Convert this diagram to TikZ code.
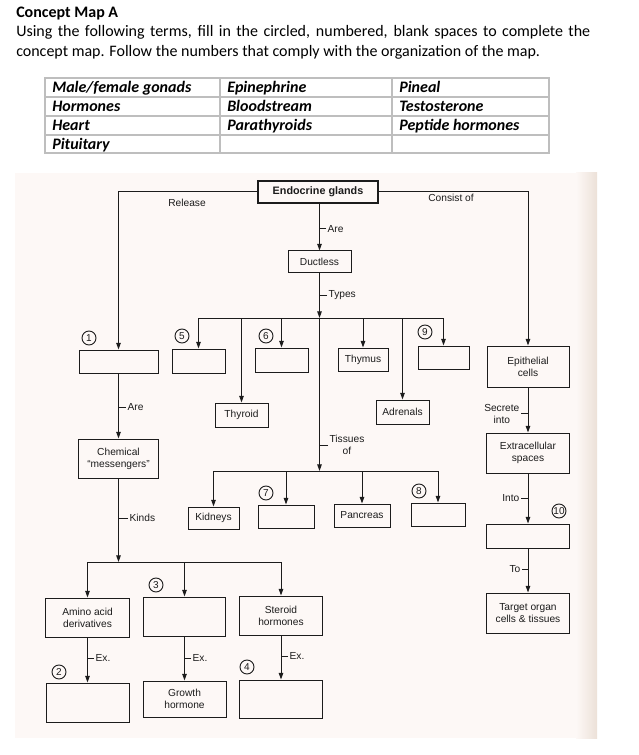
\documentclass[tikz,border=0pt]{standalone}
\usepackage{fontspec}
\setmainfont{Carlito}
\newfontfamily\dfont{Liberation Sans}
\usetikzlibrary{arrows.meta,calc}
\definecolor{ink}{RGB}{28,28,28}
\definecolor{bgp}{RGB}{253,248,246}
\definecolor{bgs}{RGB}{236,225,216}
\definecolor{tgray}{RGB}{190,190,190}
\begin{document}
\begin{tikzpicture}[x=0.75pt,y=-0.75pt,
  box/.style={draw=ink, line width=0.75pt, inner sep=1pt, align=center, text=ink,
    font=\dfont\fontsize{7.65}{9}\selectfont},
  sz/.style 2 args={minimum width=#1*0.75pt, minimum height=#2*0.75pt},
  num/.style={circle, draw=ink, line width=0.7pt, minimum size=14*0.75pt, inner sep=0pt,
    text=ink, font=\dfont\fontsize{7.5}{8}\selectfont},
  lbl/.style={inner sep=1pt, align=center, text=ink, font=\dfont\fontsize{7.65}{9}\selectfont},
  conn/.style={draw=ink, line width=0.75pt},
  arr/.style={conn, -{Triangle[length=5pt,width=3.4pt]}},
  hdr/.style={anchor=base west, inner sep=0pt, font=\fontsize{12}{14.6}\selectfont},
  cell/.style={anchor=base west, inner sep=0pt, font=\fontsize{12}{14.6}\selectfont\bfseries\itshape}
]
\useasboundingbox (0,0) rectangle (638,755);
\fill[white] (0,0) rectangle (638,755);
% scanned page background
\fill[bgp] (15,173) rectangle (577,738);
\shade[left color=bgp, right color=bgs] (576,173) rectangle (597,738);

% header
\node[hdr] (title) at (16,17.5) {\textbf{Concept Map A}};
\node[hdr] (line1) at (16,37) {\hbox to 430.5pt{Using the following terms, fill in the circled, numbered, blank spaces to complete the}};
\node[hdr] (line2) at (16,56.5) {concept map. Follow the numbers that comply with the organization of the map.};

% table
\draw[tgray, line width=1.1pt] (45,78) rectangle (549,153);
\draw[tgray, line width=1.1pt] (45,97) -- (549,97) (45,116) -- (549,116) (45,135) -- (549,135)
  (220,78) -- (220,153) (392,78) -- (392,153);
\node[cell] (t11) at (52,93) {Male/female gonads};
\node[cell] (t12) at (227,93) {Epinephrine};
\node[cell] (t13) at (399,93) {Pineal};
\node[cell] (t21) at (52,112) {Hormones};
\node[cell] (t22) at (227,112) {Bloodstream};
\node[cell] (t23) at (399,112) {Testosterone};
\node[cell] (t31) at (52,131) {Heart};
\node[cell] (t32) at (227,131) {Parathyroids};
\node[cell] (t33) at (399,131) {Peptide hormones};
\node[cell] (t41) at (52,149.5) {Pituitary};

% boxes
\node[box, sz={120}{22}, line width=1.4pt, font=\dfont\bfseries\fontsize{8.1}{9}\selectfont] (endo) at (318,192) {Endocrine glands};
\node[box, sz={63}{21}] (duct) at (319.5,261.5) {Ductless};
\node[box, sz={79}{23}] (b1) at (118.5,361.5) {};
\node[box, sz={53}{24}] (b5) at (198.5,361) {};
\node[box, sz={53}{24}] (b6) at (281.5,360) {};
\node[box, sz={50}{23}] (thym) at (363,359.5) {Thymus};
\node[box, sz={51}{23}] (b9) at (443.5,357.5) {};
\node[box, sz={82}{41}] (epi) at (528,366.5) {Epithelial\\cells};
\node[box, sz={53}{24}] (thyr) at (241.5,415) {Thyroid};
\node[box, sz={53}{24}] (adren) at (402.5,412) {Adrenals};
\node[box, sz={80}{39}] (chem) at (118.5,458.5) {Chemical\\“messengers”};
\node[box, sz={83}{40}] (extra) at (528,453) {Extracellular\\spaces};
\node[box, sz={51}{22}] (kid) at (213.5,518) {Kidneys};
\node[box, sz={56}{23}] (b7) at (286,516.5) {};
\node[box, sz={56}{23}] (panc) at (362,515.5) {Pancreas};
\node[box, sz={54}{23}] (b8) at (438,514.5) {};
\node[box, sz={83}{24}] (b10) at (528,536) {};
\node[box, sz={84}{39}] (amino) at (87.5,617.5) {Amino acid\\derivatives};
\node[box, sz={82}{39}] (b3) at (184.5,616.5) {};
\node[box, sz={83}{39}] (ster) at (281,615.5) {Steroid\\hormones};
\node[box, sz={83}{40}] (target) at (528,613) {Target organ\\cells \& tissues};
\node[box, sz={83}{39}] (b2) at (87.5,702.5) {};
\node[box, sz={83}{36}] (growth) at (184.5,699) {Growth\\hormone};
\node[box, sz={83}{38}] (b4) at (281,699) {};

% numbered circles
\node[num] (c1) at (89,338) {1};
\node[num] (c2) at (59,672) {2};
\node[num] (c3) at (156,585) {3};
\node[num] (c4) at (247,667) {4};
\node[num] (c5) at (182,336) {5};
\node[num] (c6) at (266,336) {6};
\node[num] (c7) at (266,493) {7};
\node[num] (c8) at (419,491) {8};
\node[num] (c9) at (425,332) {9};
\node[num] (c10) at (559,511) {10};

% top connectors
\draw[arr] (endo.west) -| (b1.north);
\draw[arr] (endo.east) -| (epi.north);
\draw[arr] (duct.north |- endo.south) -- (duct.north);
\node[lbl] (lrel) at (187,203) {Release};
\node[lbl] (lcon) at (451,198) {Consist of};

% ductless -> types bar
\coordinate (j1) at (319.5,318);
\draw[arr] (duct.south) -- (j1);
\draw[conn] (b5.north |- j1) -- (b9.north |- j1);
\foreach \n in {b5,thyr,b6,thym,adren,b9}
  \draw[arr] (\n.north |- j1) -- (\n.north);

% tissues bar
\coordinate (j2) at (319.5,471);
\draw[arr] (j1) -- (j2);
\draw[conn] (kid.north |- j2) -- (b8.north |- j2);
\foreach \n in {kid,b7,panc,b8}
  \draw[arr] (\n.north |- j2) -- (\n.north);

% left chain
\draw[arr] (b1.south) -- (chem.north);
\coordinate (j3) at (118.5,562);
\draw[arr] (chem.south) -- (j3);
\draw[conn] (amino.north |- j3) -- (ster.north |- j3);
\foreach \n in {amino,b3,ster}
  \draw[arr] (\n.north |- j3) -- (\n.north);
\draw[arr] (amino.south) -- (b2.north);
\draw[arr] (b3.south) -- (growth.north);
\draw[arr] (ster.south) -- (b4.north);

% right chain
\draw[arr] (epi.south) -- (extra.north);
\draw[arr] (extra.south) -- (b10.north);
\draw[arr] (b10.south) -- (target.north);

% labels with ticks
\node[lbl, anchor=west] (lare) at (326,229) {Are};
\draw[conn] (lare.west) -- (lare.west -| duct.north);
\node[lbl, anchor=west] (ltypes) at (327,295) {Types};
\draw[conn] (ltypes.west) -- (ltypes.west -| duct.south);
\node[lbl, anchor=west] (lare2) at (126,407) {Are};
\draw[conn] (lare2.west) -- (lare2.west -| b1.south);
\node[lbl, anchor=west] (lkinds) at (128,518) {Kinds};
\draw[conn] (lkinds.west) -- (lkinds.west -| chem.south);
\node[lbl, anchor=west] (ltis) at (328,445) {Tissues\\of};
\draw[conn] (ltis.west) -- (ltis.west -| j2);
\node[lbl, anchor=east] (lsec) at (521,413.5) {Secrete\\into};
\draw[conn] (lsec.east) -- (lsec.east -| epi.south);
\node[lbl, anchor=east] (linto) at (521,498) {Into};
\draw[conn] (linto.east) -- (linto.east -| extra.south);
\node[lbl, anchor=east] (lto) at (522,569) {To};
\draw[conn] (lto.east) -- (lto.east -| b10.south);
\node[lbl, anchor=west] (lex1) at (94,658) {Ex.};
\draw[conn] (lex1.west) -- (lex1.west -| amino.south);
\node[lbl, anchor=west] (lex2) at (191,658) {Ex.};
\draw[conn] (lex2.west) -- (lex2.west -| b3.south);
\node[lbl, anchor=west] (lex3) at (288,656) {Ex.};
\draw[conn] (lex3.west) -- (lex3.west -| ster.south);
\end{tikzpicture}
\end{document}
